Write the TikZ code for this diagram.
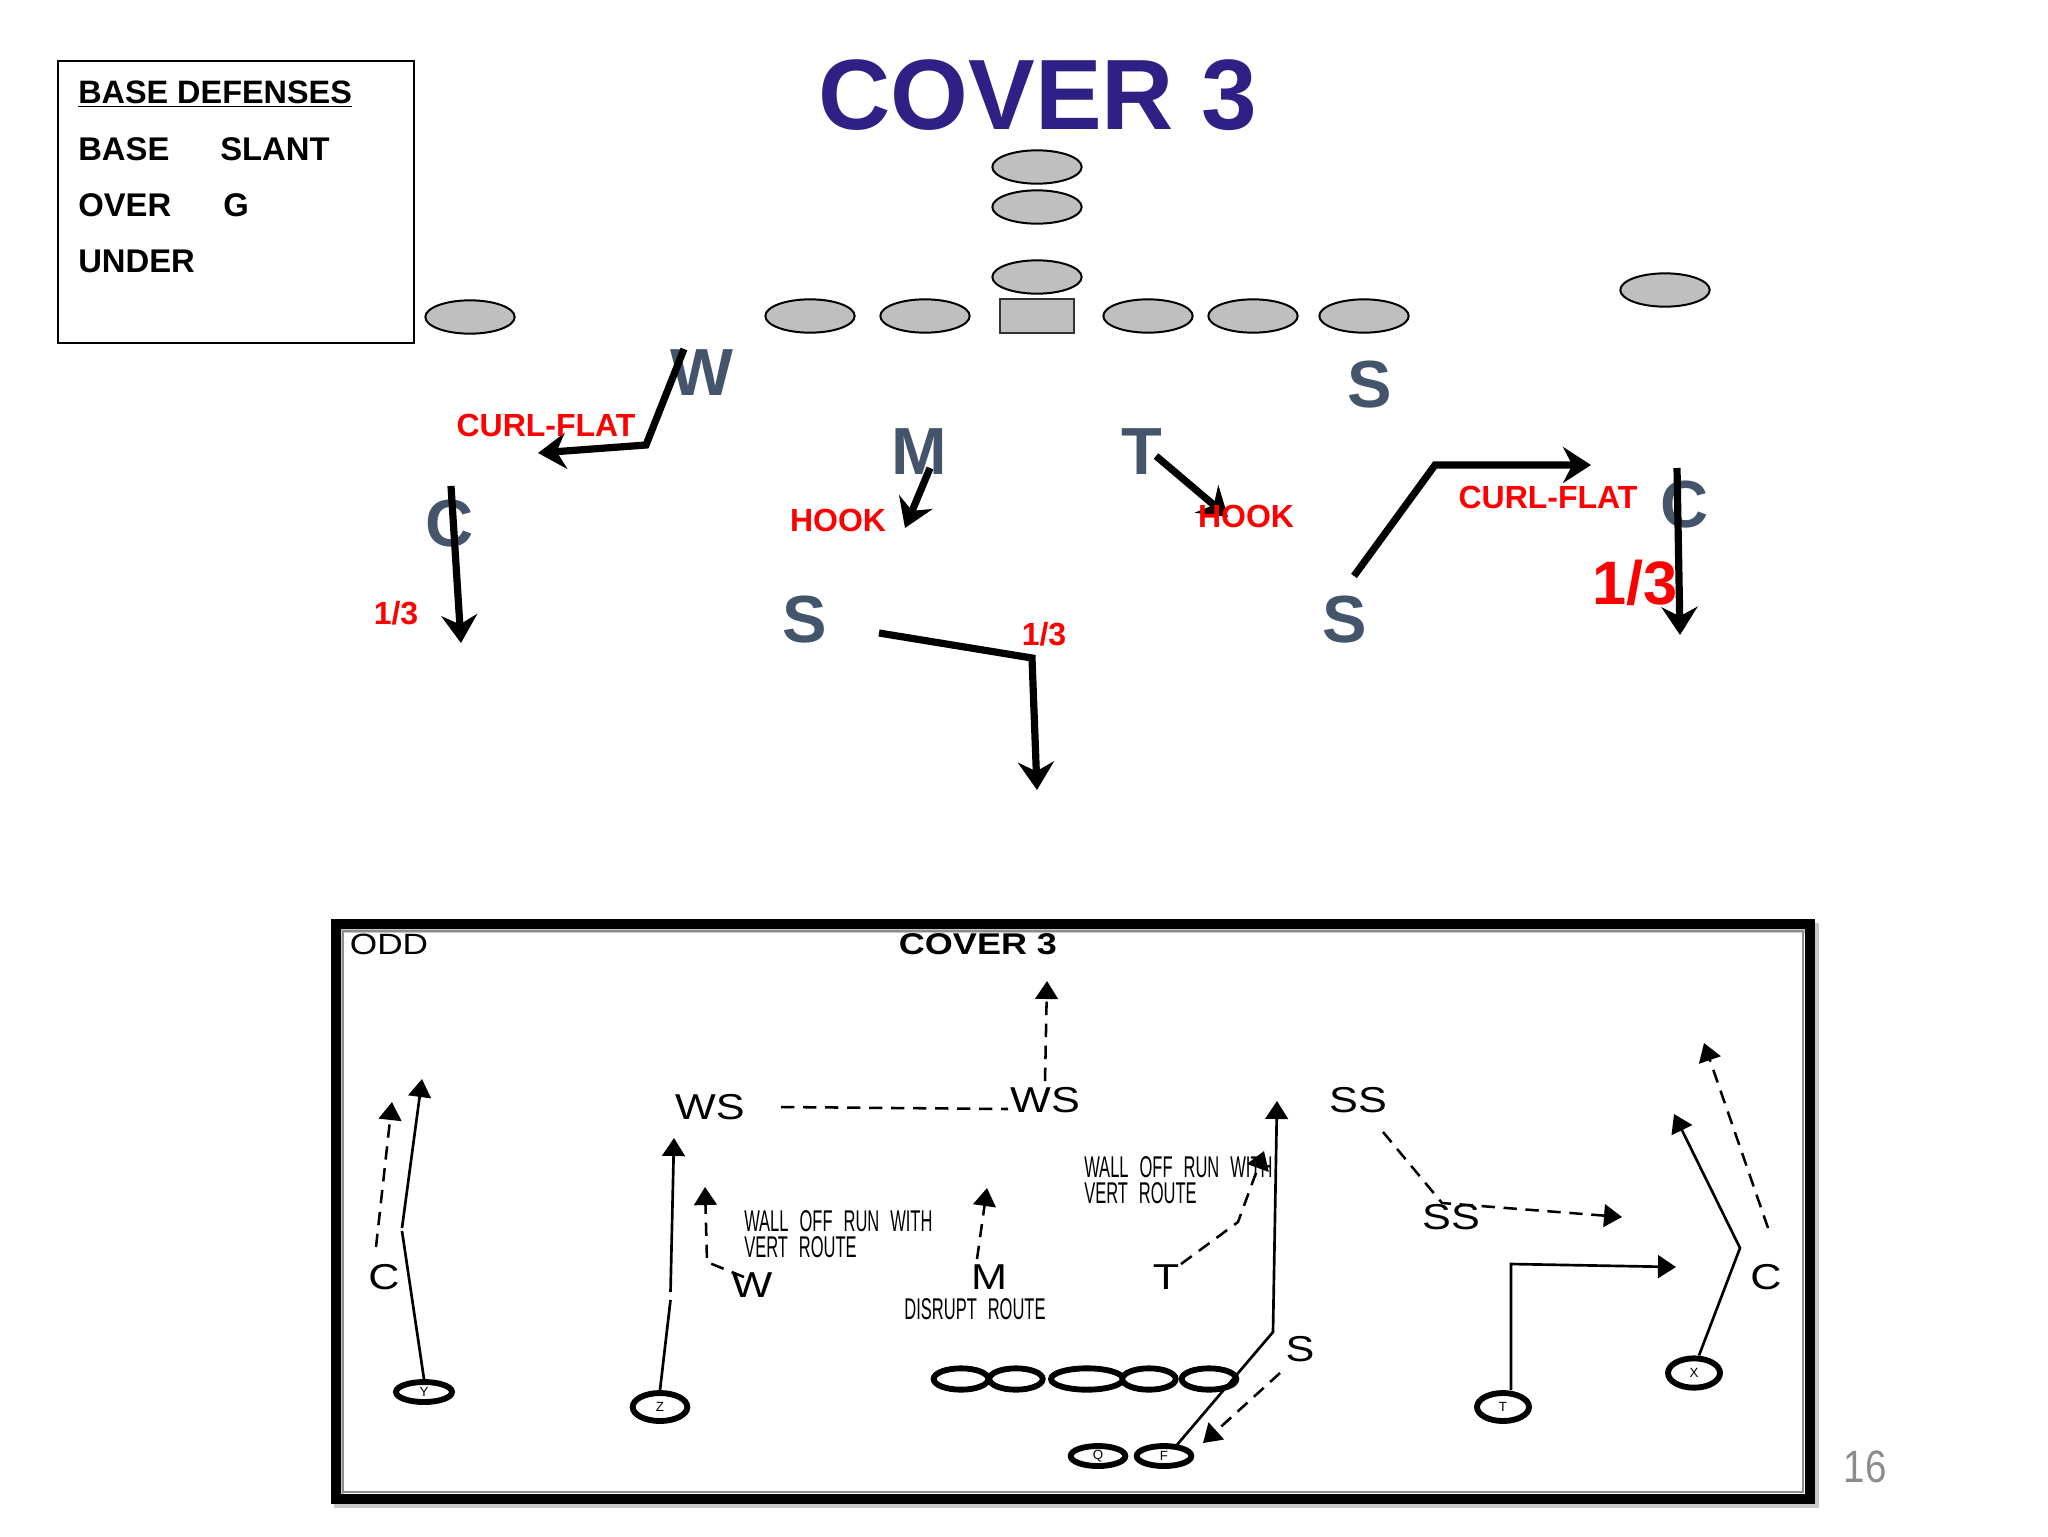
\documentclass[tikz,border=0pt]{standalone}
\usepackage{fontspec}
\setmainfont{Liberation Sans}
\newfontfamily\widefont[FakeStretch=1.2]{Liberation Sans}
\newfontfamily\narrowfont[FakeStretch=0.55,WordSpace=2.4]{Liberation Sans}
\newfontfamily\numfont[FakeStretch=0.85]{Liberation Sans}
\usetikzlibrary{shapes.geometric,arrows.meta}
\definecolor{titleblue}{RGB}{46,32,133}
\definecolor{slatefg}{RGB}{68,84,106}
\tikzset{
  player/.style={ellipse,draw=black,line width=1.5pt,fill=black!25,minimum width=67pt,minimum height=25pt,inner sep=0pt},
  centerbox/.style={rectangle,draw=black!80,line width=1.5pt,fill=black!25,minimum width=56pt,minimum height=25pt,inner sep=0pt},
  legendtext/.style={anchor=west,inner sep=0pt,font=\bfseries\fontsize{24.6}{28}\selectfont},
  defender/.style={inner sep=0pt,text=slatefg,font=\bfseries\fontsize{50}{56}\selectfont},
  zonetext/.style={inner sep=0pt,text=red,font=\bfseries\fontsize{24}{28}\selectfont},
  route/.style={line width=5.4pt,-{Stealth[length=21pt,width=27pt,inset=7pt]}},
  smalltext/.style={inner sep=0pt,font=\widefont\fontsize{27}{30}\selectfont},
  notetext/.style={inner sep=0pt,align=left,font=\narrowfont\fontsize{22.5}{20}\selectfont},
  recv/.style={ellipse,draw=black,line width=4.4pt,fill=white,inner sep=0pt,font=\fontsize{10}{10}\selectfont},
  plain/.style={line width=2pt},
  pass/.style={line width=2pt,-{Triangle[length=13.5pt,width=17pt]}},
  dashpass/.style={line width=1.9pt,dash pattern=on 10pt off 6.5pt,-{Triangle[length=13.5pt,width=17pt]}},
}
\begin{document}
\begin{tikzpicture}[x=0.75pt,y=0.75pt,yscale=-1,xscale=1]
        \useasboundingbox (0,0) rectangle (2048,1536);
        % legend and title
        \node (legend) [draw=black,line width=1.4pt,minimum width=267pt,minimum height=212pt,inner sep=0pt] at (236,202) {};
        \node (lhead) [legendtext,font=\bfseries\fontsize{24.3}{28}\selectfont] at (78,94) {\underline{BASE DEFENSES}};
        \node (lbase) [legendtext] at (78,149) {BASE};
        \node (lslant) [legendtext] at (220,149) {SLANT};
        \node (lover) [legendtext] at (78,205) {OVER};
        \node (lg) [legendtext] at (223,205) {G};
        \node (lunder) [legendtext] at (78,261) {UNDER};
        \node (title) [inner sep=0pt,text=titleblue,font=\bfseries\fontsize{75}{80}\selectfont] at (1038,95) {COVER 3};

        % offense
        \node (p1) [player] at (470,317) {};
        \node (p2) [player] at (810,316) {};
        \node (p3) [player] at (925,316) {};
        \node (p4) [player] at (1037,167) {};
        \node (p5) [player] at (1037,207) {};
        \node (p6) [player] at (1037,277) {};
        \node (p7) [centerbox] at (1037,316) {};
        \node (p8) [player] at (1148,316) {};
        \node (p9) [player] at (1253,316) {};
        \node (p10) [player] at (1364,316) {};
        \node (p11) [player] at (1665,290) {};

        % defense
        \node (dw) [defender] at (702,373) {W};
        \node (dm) [defender] at (919,452) {M};
        \node (dt) [defender] at (1142,452) {T};
        \node (ds) [defender] at (1370,385) {S};
        \node (dcl) [defender] at (450,524) {C};
        \node (dsl) [defender] at (805,620) {S};
        \node (dsr) [defender] at (1345,620) {S};
        \node (dcr) [defender] at (1685,505) {C};

        \coordinate (wa) at (684,349);
        \coordinate (wb) at (646,445);
        \coordinate (wc) at (538,453);
        \coordinate (cla) at (451,486);
        \coordinate (clb) at (461,643);
        \coordinate (ma) at (930,468);
        \coordinate (mb) at (905,528);
        \coordinate (ta) at (1156,456);
        \coordinate (tb) at (1228,517);
        \coordinate (sla) at (879,633);
        \coordinate (slb) at (1032,658);
        \coordinate (slc) at (1037,790);
        \coordinate (sra) at (1354,576);
        \coordinate (srb) at (1435,465);
        \coordinate (src) at (1591,465);
        \coordinate (cra) at (1677,468);
        \coordinate (crb) at (1680,635);
        \draw [route] (wa) -- (wb) -- (wc);
        \draw [route] (cla) -- (clb);
        \draw [route] (ma) -- (mb);
        \draw [route] (ta) -- (tb);
        \draw [route] (sla) -- (slb) -- (slc);
        \draw [route] (sra) -- (srb) -- (src);
        \draw [route] (cra) -- (crb);

        \node (zcfl) [zonetext] at (546,425) {CURL-FLAT};
        \node (zhkl) [zonetext] at (838,520) {HOOK};
        \node (zthl) [zonetext] at (396,613) {1/3};
        \node (zthm) [zonetext] at (1044,634) {1/3};
        \node (zhkr) [zonetext] at (1246,516) {HOOK};
        \node (zcfr) [zonetext] at (1548,497) {CURL-FLAT};
        \node (zthr) [zonetext,font=\bfseries\fontsize{46}{50}\selectfont] at (1635,583) {1/3};

        % playbook frame
        \draw [black!22,line width=7.5pt] (339,928) -- (1814,928) -- (1814,1503) -- (339,1503) -- cycle ;
        \draw [black!45,line width=1.5pt] (343,931) -- (1803,931) -- (1803,1492) -- (343,1492) -- cycle ;
        \draw [black,line width=7.5pt] (336,924) -- (1810,924) -- (1810,1499) -- (336,1499) -- cycle ;
        \node (odd) [inner sep=0pt,font=\widefont\fontsize{22}{24}\selectfont] at (389,944) {ODD};
        \node (cov) [inner sep=0pt,font=\widefont\bfseries\fontsize{22.5}{24}\selectfont] at (978,944) {COVER 3};

        \node (ws1) [smalltext] at (710,1107) {WS};
        \node (ws2) [smalltext] at (1045,1100) {WS};
        \node (sw) [smalltext] at (752,1285) {W};
        \node (sm) [smalltext] at (989,1277) {M};
        \node (st) [smalltext] at (1166,1277) {T};
        \node (scl) [smalltext] at (384,1277) {C};
        \node (ss) [smalltext] at (1300,1349) {S};
        \node (ss1) [smalltext] at (1358,1100) {SS};
        \node (ss2) [smalltext] at (1451,1217) {SS};
        \node (scr) [smalltext] at (1766,1277) {C};
        \node (nw) [notetext,anchor=west] at (744,1234) {WALL OFF RUN WITH\\VERT ROUTE};
        \node (nt) [notetext,anchor=west] at (1084,1180) {WALL OFF RUN WITH\\VERT ROUTE};
        \node (nm) [notetext] at (975,1309) {DISRUPT ROUTE};

        \node (ry) [recv,minimum width=42pt,minimum height=15pt] at (424,1392) {\raisebox{-6pt}{Y}};
        \node (rz) [recv,minimum width=41pt,minimum height=21pt] at (660,1407) {\raisebox{-6pt}{Z}};
        \node (ol1) [recv,minimum width=41pt,minimum height=16pt] at (961,1379) {};
        \node (ol2) [recv,minimum width=40pt,minimum height=16pt] at (1016,1379) {};
        \node (ol3) [recv,minimum width=54pt,minimum height=16pt] at (1087,1379) {};
        \node (ol4) [recv,minimum width=40pt,minimum height=16pt] at (1149,1379) {};
        \node (ol5) [recv,minimum width=41pt,minimum height=16pt] at (1209,1379) {};
        \node (rq) [recv,minimum width=41pt,minimum height=15pt] at (1098,1456) {\raisebox{-6pt}{Q}};
        \node (rf) [recv,minimum width=41pt,minimum height=15pt] at (1164,1456) {\raisebox{-6pt}{F}};
        \node (rt) [recv,minimum width=39pt,minimum height=21pt] at (1503,1407) {\raisebox{-4pt}{T}};
        \node (rx) [recv,minimum width=39pt,minimum height=22pt] at (1694,1373) {\raisebox{-4pt}{X}};

        \coordinate (ya) at (402,1231);
        \coordinate (yb) at (402,1228);
        \coordinate (ye) at (422,1079);
        \coordinate (cda) at (376,1247);
        \coordinate (cdb) at (392,1102);
        \coordinate (za) at (670.5,1300);
        \coordinate (zb) at (670.5,1292);
        \coordinate (ze) at (674,1138);
        \coordinate (wda) at (744,1277);
        \coordinate (wdb) at (707,1262);
        \coordinate (wdc) at (705,1187);
        \coordinate (mda) at (977,1259);
        \coordinate (mdb) at (987,1188);
        \coordinate (wsa) at (781,1107);
        \coordinate (wsb) at (1008,1109);
        \coordinate (wsc) at (1045,1081);
        \coordinate (wsd) at (1047,981);
        \coordinate (tda) at (1181,1264);
        \coordinate (tdb) at (1238,1222);
        \coordinate (tdc) at (1264,1151);
        \coordinate (fa) at (1176,1446);
        \coordinate (fb) at (1273,1332);
        \coordinate (fe) at (1277,1101);
        \coordinate (sda) at (1280,1373);
        \coordinate (sdb) at (1203,1443);
        \coordinate (ssa) at (1383,1132);
        \coordinate (ssb) at (1442,1203);
        \coordinate (ssc) at (1622,1217);
        \coordinate (tb2) at (1511,1264);
        \coordinate (te) at (1676,1267);
        \coordinate (xb) at (1740,1248);
        \coordinate (xe) at (1674,1114);
        \coordinate (cra2) at (1768,1228);
        \coordinate (crb2) at (1704,1043);

        \draw [plain] (ry.north) -- (ya);
        \draw [pass] (yb) -- (ye);
        \draw [dashpass] (cda) -- (cdb);
        \draw [plain] (rz.north) -- (za);
        \draw [pass] (zb) -- (ze);
        \draw [dashpass] (wda) -- (wdb) -- (wdc);
        \draw [dashpass] (mda) -- (mdb);
        \draw [dashpass,-] (wsa) -- (wsb);
        \draw [dashpass] (wsc) -- (wsd);
        \draw [dashpass] (tda) -- (tdb) -- (tdc);
        \draw [pass] (fa) -- (fb) -- (fe);
        \draw [dashpass] (sda) -- (sdb);
        \draw [dashpass] (ssa) -- (ssb) -- (ssc);
        \draw [pass] (rt.north) ++(8,0) -- (tb2) -- (te);
        \draw [pass] (rx.north) ++(5,0) -- (xb) -- (xe);
        \draw [dashpass] (cra2) -- (crb2);

        \node (pagenum) [inner sep=0pt,text=black!45,font=\numfont\fontsize{34}{38}\selectfont] at (1865,1467) {16};
\end{tikzpicture}
\end{document}
